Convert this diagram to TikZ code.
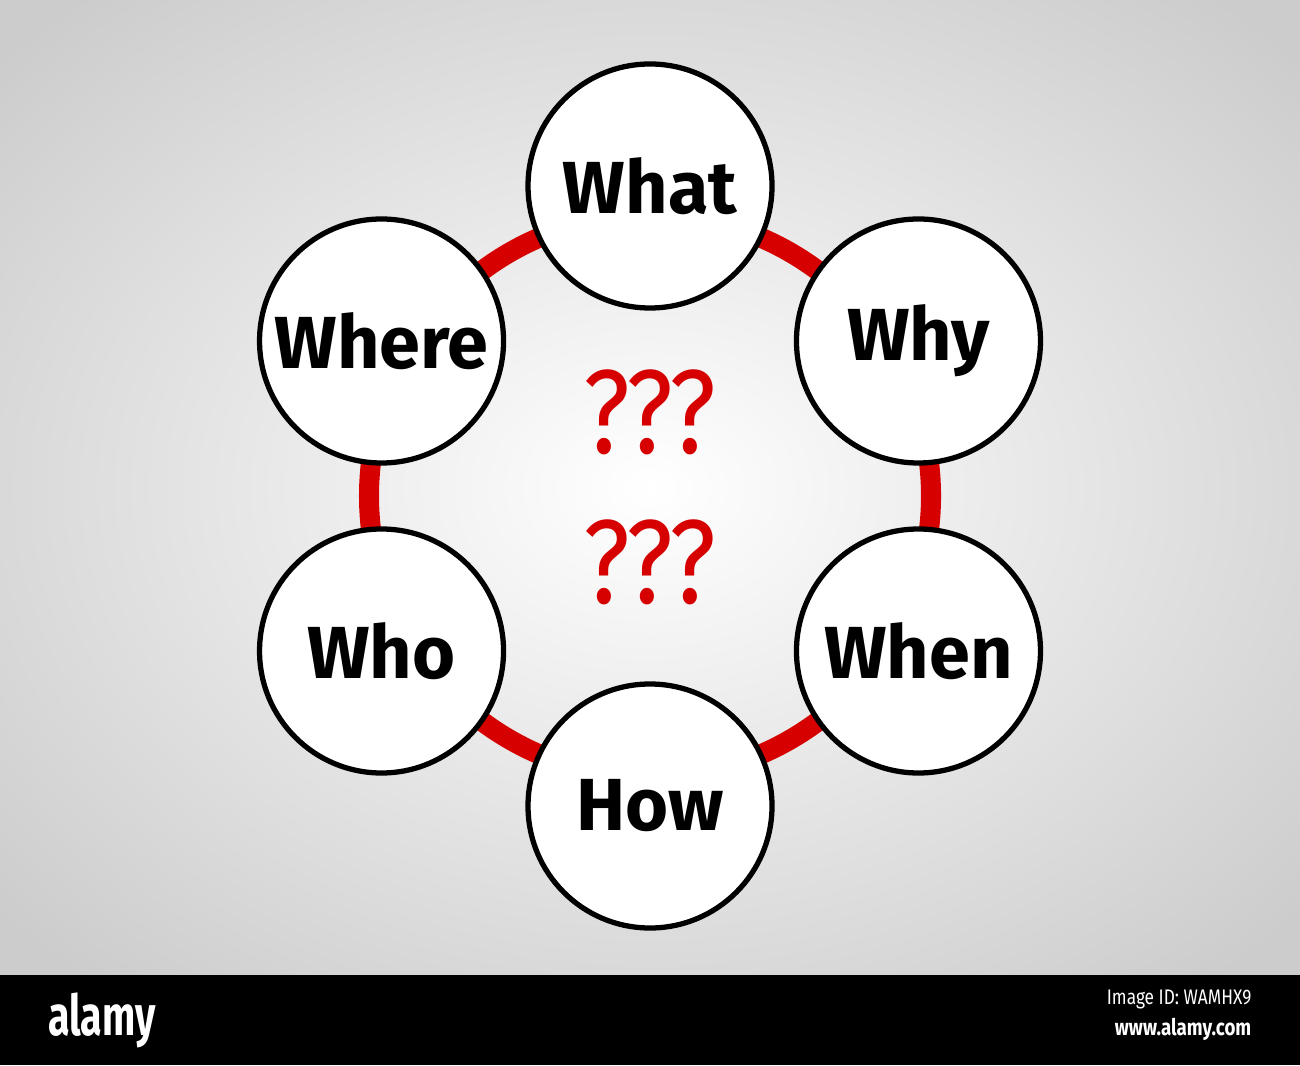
\documentclass[tikz,border=0pt]{standalone}
\usepackage{fontspec}
\setmainfont{Fira Sans}
\usepackage{xcolor}
\definecolor{ringred}{RGB}{214,0,0}
\usepackage{tikz}
\usetikzlibrary{positioning,calc}
\tikzset{
  word/.style={circle,draw=black,line width=1.5pt,fill=white,minimum size=2.44cm,inner sep=0pt,
    font=\fontsize{21}{21}\selectfont\bfseries},
  ask/.style={text=ringred,font=\fontsize{34}{34}\selectfont},
  barnote/.style={text=white,inner sep=0pt,anchor=east}
}

\begin{document}
\begin{tikzpicture}
  \useasboundingbox (0, 0) rectangle (13, 10.65);
  \begin{scope}
    \clip (0, 0.9) rectangle (13, 10.65);
    \shade[inner color=white,outer color=black!20] (-2.17, -0.725) rectangle (15.17, 12.275);
  \end{scope}
  \fill[black] (0, 0) rectangle (13, 0.9);
  \coordinate (mid) at (6.5, 5.69);
  \draw[ringred,line width=5.7pt] (mid) circle (2.81);
  \node[word] (what) at ($(mid)+(90:3.1)$) {What};
  \node[word] (why) at ($(mid)+(30:3.1)$) {Why};
  \node[word] (when) at ($(mid)+(-30:3.1)$) {When};
  \node[word] (how) at ($(mid)+(-90:3.1)$) {How};
  \node[word] (who) at ($(mid)+(-150:3.1)$) {Who};
  \node[word] (where) at ($(mid)+(150:3.1)$) {Where};
  \node[ask] (askup) at (6.5, 6.53) {\scalebox{0.85}[1]{???}};
  \node[ask] (askdown) at (6.5, 5.03) {\scalebox{0.85}[1]{???}};
  % bottom strip
  \node[text=white,inner sep=0pt,font=\fontsize{16}{16}\selectfont\bfseries] (logo) at (1.02, 0.45) {\scalebox{0.7}[1]{alamy}};
  \node[barnote,font=\fontsize{6}{6}\selectfont] (imgid) at (12.52, 0.66) {\scalebox{0.82}[1]{Image ID: WAMHX9}};
  \node[barnote,font=\fontsize{6.5}{6.5}\selectfont\bfseries] (site) at (12.52, 0.36) {\scalebox{0.82}[1]{www.alamy.com}};
\end{tikzpicture}
\end{document}
